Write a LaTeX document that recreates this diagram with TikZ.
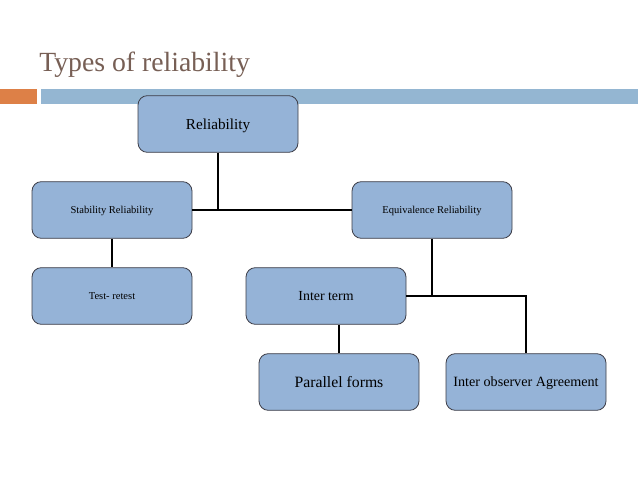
\documentclass[tikz,border=0pt]{standalone}
\usepackage{fontspec}
\setmainfont{Liberation Serif}
\usepackage{xcolor}
\usetikzlibrary{positioning,calc}

\definecolor{titlebrown}{RGB}{119,95,85}
\definecolor{baror}{RGB}{221,128,71}
\definecolor{barblue}{RGB}{148,182,210}
\definecolor{boxblue}{RGB}{149,179,215}
\definecolor{boxedge}{RGB}{60,60,70}

\begin{document}
\begin{tikzpicture}[x=0.75pt, y=-0.75pt]
    % Styles
    \tikzstyle{rbox} = [draw=boxedge, line width=0.6pt, fill=boxblue, rounded corners=7pt, minimum width=120pt, minimum height=42.5pt, inner sep=0pt, text depth=0pt]
    \tikzstyle{link} = [draw, line width=1.6pt, black]

    \useasboundingbox (0,0) rectangle (638,478);

    % Title and header bars
    \node[anchor=base west, inner sep=0pt, text=titlebrown, font=\fontsize{20.8}{24}\selectfont] (title) at (39,71.5) {Types of reliability};
    \fill[baror] (0,89) rectangle (37,104);
    \fill[barblue] (41,89) rectangle (638,104);

    % Top level
    \node[rbox, font=\fontsize{11.4}{13}\selectfont] (rel) at (218,124) {Reliability};

    % Second level
    \node[rbox, font=\fontsize{7.9}{9}\selectfont] (stab) at (112,210) {Stability Reliability};
    \node[rbox, font=\fontsize{7.9}{9}\selectfont] (equiv) at (432,210) {Equivalence Reliability};

    % Third level
    \node[rbox, font=\fontsize{7.9}{9}\selectfont] (test) at (112,296) {Test- retest};
    \node[rbox, font=\fontsize{10.4}{12}\selectfont] (inter) at (326,296) {Inter term};

    % Fourth level
    \node[rbox, font=\fontsize{11.8}{14}\selectfont] (par) at (339,382) {Parallel forms};
    \node[rbox, font=\fontsize{10.6}{12}\selectfont] (agree) at (526,382) {Inter observer Agreement};

    % Connectors
    \draw[link] (rel.south) -- (rel.south |- stab.east);
    \draw[link] (stab.east) -- (equiv.west);
    \draw[link] (stab.south) -- (test.north);
    \draw[link] (equiv.south) -- (equiv.south |- inter.east);
    \draw[link] (inter.east) -| (agree.north);
    \draw[link] (par.north) -- (par.north |- inter.south);
\end{tikzpicture}
\end{document}
